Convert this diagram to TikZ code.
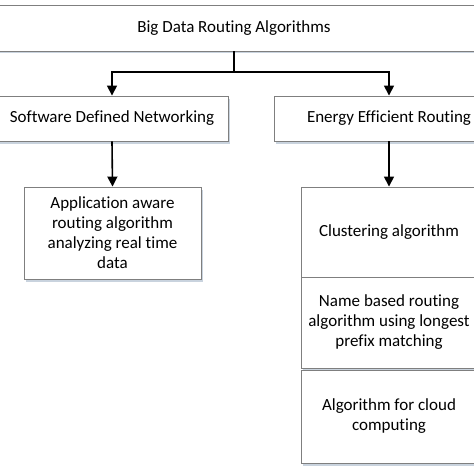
\documentclass[tikz,border=0pt]{standalone}
\usepackage{fontspec}
\setmainfont[Ligatures=NoCommon]{Carlito}
\usetikzlibrary{arrows.meta}
\definecolor{boxgray}{HTML}{7F7F7F}
\definecolor{shadowc}{HTML}{C9D3DE}
\tikzset{
  box/.style={draw=boxgray, line width=0.9pt, fill=white, inner sep=0pt, align=center,
    font=\fontsize{17}{20}\selectfont, text=black},
  conn/.style={line width=1.6pt, black},
  arr/.style={conn, -{Triangle[width=10pt,length=10pt]}},
}
\begin{document}
\begin{tikzpicture}[x=1pt,y=1pt]
\useasboundingbox (0,0) rectangle (474,-474);
\clip (0,0) rectangle (474,-474);
% shadows
\foreach \cx/\cy/\w/\h in {234/-27/490/46, 112/-118.5/232/45, 389/-118.5/230/45, 112.5/-233/177/92, 389/-232/176/90, 389/-322.5/176/91, 389/-416.5/176/93}{
  \fill[shadowc] (\cx-\w/2+1.5,\cy-\h/2-2.5) rectangle (\cx+\w/2+1.5,\cy+\h/2-2.5);
}
\node[box, minimum width=490pt, minimum height=46pt] (top) at (234,-28) {Big Data Routing Algorithms};
\node[box, minimum width=232pt, minimum height=45pt] (sdn) at (112,-118.5) {Software Defined Networking};
\node[box, minimum width=230pt, minimum height=45pt] (eer) at (389,-118.5) {Energy Efficient Routing};
\node[box, minimum width=177pt, minimum height=92pt] (app) at (112.5,-233) {Application aware\\routing algorithm\\analyzing real time\\data};
\node[box, minimum width=176pt, minimum height=90pt] (clus) at (389,-232) {Clustering algorithm};
\node[box, minimum width=176pt, minimum height=91pt] (name) at (389,-322.5) {Name based routing\\algorithm using longest\\prefix matching};
\node[box, minimum width=176pt, minimum height=93pt] (cloud) at (389,-416.5) {Algorithm for cloud\\computing};
\coordinate (j) at (234,-72);
\draw[conn] (top.south) -- (j);
\draw[arr] (j) -| (sdn.north);
\draw[arr] (j) -| (eer.north);
\draw[arr] (sdn.south) -- (app.north);
\draw[arr] (eer.south) -- (clus.north);
\end{tikzpicture}
\end{document}
